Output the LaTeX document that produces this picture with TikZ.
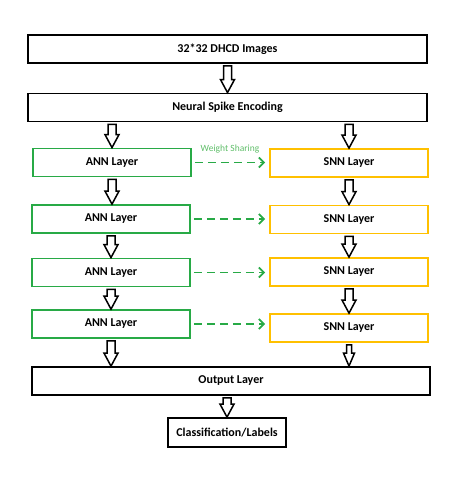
\documentclass[tikz,border=0pt]{standalone}
\usepackage{fontspec}
\setmainfont{Carlito}
\usetikzlibrary{calc,arrows.meta}

\definecolor{anngreen}{RGB}{40,170,70}
\definecolor{snnyellow}{RGB}{255,192,0}
\definecolor{sharegreen}{RGB}{95,190,105}

% hollow block arrow, #1 = half width of the shaft
\newcommand{\hollowarrow}[3][4pt]{%
  \draw[hollow] let \p1=(#2), \p2=(#3) in
    (\x1-#1,\y1-2pt) -- (\x1-#1,\y2+13pt) -- (\x1-#1-3pt,\y2+13pt) -- (\x1,\y2)
    -- (\x1+#1+3pt,\y2+13pt) -- (\x1+#1,\y2+13pt) -- (\x1+#1,\y1-2pt) -- cycle;}

\begin{document}
\begin{tikzpicture}[x=1pt,y=-1pt]

\tikzstyle{plainbox} = [draw=black, line width=1.8pt, minimum height=28, font=\bfseries\fontsize{12}{14}\selectfont];
\tikzstyle{annbox} = [plainbox, draw=anngreen, minimum width=158];
\tikzstyle{snnbox} = [plainbox, draw=snnyellow, minimum width=158];
\tikzstyle{hollow} = [draw=black, fill=white, line width=1.5pt, line join=miter];
\tikzstyle{share} = [-{Straight Barb[length=5pt,width=10pt]}, anngreen, line width=1.8pt, dash pattern=on 8pt off 5pt];

\useasboundingbox (0,0) rectangle (474,479);

\node[plainbox, minimum width=399] (img) at (227.5,49) {32*32 DHCD Images};
\node[plainbox, minimum width=399] (enc) at (227.5,107.5) {Neural Spike Encoding};

\node[annbox] (ann1) at (112,162.5) {ANN Layer};
\node[annbox] (ann2) at (111,219) {ANN Layer};
\node[annbox] (ann3) at (111,272.5) {ANN Layer};
\node[annbox] (ann4) at (111,324) {ANN Layer};

\node[snnbox] (snn1) at (349,163) {SNN Layer};
\node[snnbox] (snn2) at (349,219.5) {SNN Layer};
\node[snnbox] (snn3) at (349,272) {SNN Layer};
\node[snnbox] (snn4) at (349,328) {SNN Layer};

\node[plainbox, minimum width=398] (out) at (231,381) {Output Layer};
\node[plainbox, minimum width=118, minimum height=29] (cls) at (227,432.5) {Classification/Labels};

\hollowarrow{img.south}{enc.north}
\hollowarrow{ann1.north |- enc.south}{ann1.north}
\hollowarrow{snn1.north |- enc.south}{snn1.north}
\hollowarrow{ann1.south}{ann2.north}
\hollowarrow{snn1.south}{snn2.north}
\hollowarrow{ann2.south}{ann3.north}
\hollowarrow{snn2.south}{snn3.north}
\hollowarrow{ann3.south}{ann4.north}
\hollowarrow{snn3.south}{snn4.north}
\hollowarrow{ann4.south}{ann4.south |- out.north}
\hollowarrow[2.5pt]{snn4.south}{snn4.south |- out.north}
\hollowarrow{out.south -| cls.north}{cls.north}

\draw[share] ([xshift=3pt]ann1.east) -- node[above=5pt, text=sharegreen, font=\fontsize{9.5}{11}\selectfont] {Weight Sharing} ([xshift=-4pt]ann1.east -| snn1.west);
\draw[share] ([xshift=3pt]ann2.east) -- ([xshift=-4pt]ann2.east -| snn2.west);
\draw[share] ([xshift=3pt]ann3.east) -- ([xshift=-4pt]ann3.east -| snn3.west);
\draw[share] ([xshift=3pt]ann4.east) -- ([xshift=-4pt]ann4.east -| snn4.west);
\end{tikzpicture}
\end{document}
